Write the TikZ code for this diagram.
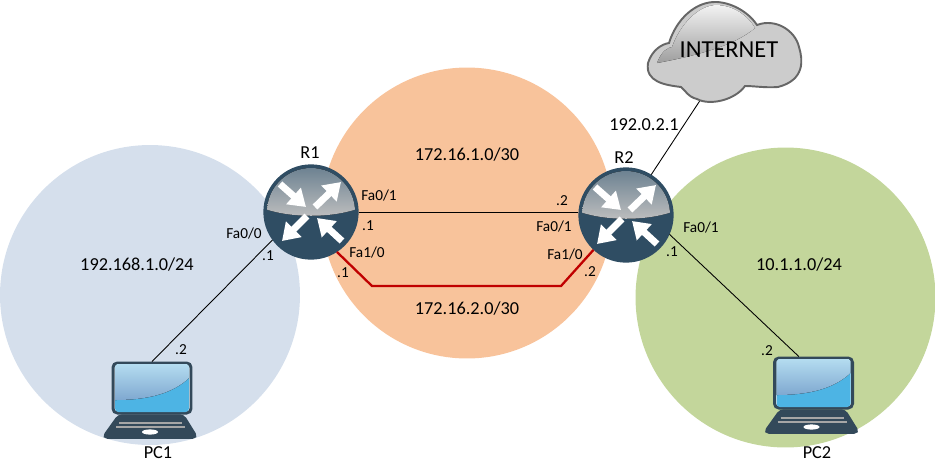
\documentclass[tikz,border=0pt]{standalone}
\usepackage{fontspec}
\setmainfont{Carlito}
\usetikzlibrary{arrows.meta, positioning}

\definecolor{routerblue}{HTML}{2F4D63}
\definecolor{frameblue}{HTML}{33495A}
\definecolor{screenblue}{HTML}{4DB4E4}
\definecolor{screenpale}{HTML}{B4DCF0}
\definecolor{screendull}{HTML}{7FA8D0}
\definecolor{lanblue}{HTML}{D5DFEC}
\definecolor{lanorange}{HTML}{F8C39B}
\definecolor{langreen}{HTML}{C3D69B}
\definecolor{linkred}{HTML}{C00000}

\tikzset{
    lan/.style={circle, fill=#1, inner sep=0, minimum size=6cm},
    router/.style={circle, draw=routerblue, line width=1.6pt, fill=routerblue, inner sep=0, minimum size=1.85cm},
    laptop/.style={rectangle, rounded corners=2.5pt, draw=frameblue, line width=1.7pt, fill=white, inner sep=0, minimum width=1.56cm, minimum height=1cm},
    big/.style={font=\fontsize{10.4pt}{12pt}\selectfont, inner sep=0},
    small/.style={font=\fontsize{8.7pt}{10pt}\selectfont, inner sep=0},
    flow/.style={white, line width=3.9pt, -{Triangle[length=9.5pt, width=12pt]}},
    pics/routerface/.style={code={
        \begin{scope}
            \clip (0, 0) circle (44);
            \fill[top color=routerblue!70!white, bottom color=white!50!gray] (-46, -44) -- (46, -44) -- (46, -3) .. controls (20, 6) and (-20, 6) .. (-46, -3) -- cycle;
        \end{scope}
        \draw[flow] (-31, -28) -- (-5, -5);
        \draw[flow] (4, -5) -- (30, -30);
        \draw[flow] (-4, 4) -- (-29, 29);
        \draw[flow] (31, 29) -- (6, 6);
    }},
    pics/laptopface/.style={code={
        \fill[rounded corners=2pt, screenblue] (-37, -24) rectangle (37, 24);
        \fill[top color=screenpale, bottom color=screendull] (-37, 12) .. controls (-5, 12) and (20, 6) .. (37, -10) -- (37, -22) -- (35, -24) -- (-35, -24) -- (-37, -22) -- cycle;
        \draw[frameblue, line width=2pt, rounded corners=2pt, fill=frameblue] (-33, 28) -- (31, 28) -- (44, 49) -- (-48, 49) -- cycle;
        \draw[gray!70!white, line width=.8pt] (-33, 35) -- (30, 35);
        \draw[gray!70!white, line width=.8pt] (-36, 39) -- (33, 39);
        \fill[white] (-2, 44) ellipse (8 and 2.6);
    }}
}

\begin{document}
\begin{tikzpicture}[x=0.02cm, y=-0.02cm]
    \useasboundingbox (0, 0) rectangle (935, 467);
    \node[lan=lanblue] at (150, 295) (lan1) {};
    \node[lan=lanorange, minimum size=5.82cm] at (467, 213) (lan2) {};
    \node[lan=langreen] at (785.5, 297.5) (lan3) {};

    \node[router] at (311, 212) (R1) {};
    \node[router] at (626, 215) (R2) {};
    \node[laptop] at (152, 388) (PC1) {};
    \node[laptop] at (813.5, 383) (PC2) {};
    \coordinate (cloudfoot) at (701, 99);
    \coordinate (bendleft) at (372, 286);
    \coordinate (bendright) at (561, 286);

    \draw (R1.east) -- (R1.east -| R2.west);
    \draw[linkred, line width=1.3pt] (R1.-57) -- (bendleft) -- (bendright) -- (R2.-133);
    \draw[line width=.5pt] (R1.216) -- (PC1.north);
    \draw[line width=.5pt] (R2.-24) -- (PC2.119);
    \draw[line width=.5pt] (R2.58) -- (cloudfoot);

    \pic at (R1) {routerface};
    \pic at (R2) {routerface};
    \pic at (PC1) {laptopface};
    \pic at (PC2) {laptopface};

    \draw[draw=black!60, line width=1.1pt, fill=black!20] (648, 63) .. controls (652, 50) and (662, 44) .. (669, 43)
        .. controls (676, 20) and (695, 1) .. (717, 2)
        .. controls (734, 3) and (750, 14) .. (757, 25)
        .. controls (775, 18) and (795, 30) .. (799, 47)
        .. controls (803, 60) and (805, 80) .. (778, 87)
        .. controls (765, 88) and (755, 86) .. (745, 86)
        .. controls (735, 100) and (710, 106) .. (697, 99)
        .. controls (688, 97) and (685, 90) .. (681, 87)
        .. controls (665, 85) and (645, 82) .. (648, 63) -- cycle;
    \fill[top color=black!5, bottom color=black!38] (657, 63) .. controls (662, 50) and (668, 48) .. (672, 47)
        .. controls (680, 25) and (698, 5) .. (717, 5)
        .. controls (735, 6) and (748, 16) .. (755, 28)
        .. controls (735, 45) and (700, 55) .. (657, 63) -- cycle;
    \node[font=\fontsize{13.9pt}{16pt}\selectfont, inner sep=0] at (729, 50) (internet) {INTERNET};

    \node[big] at (310, 153) (nameR1) {R1};
    \node[big] at (624, 158) (nameR2) {R2};
    \node[big] at (158, 453) (namePC1) {PC1};
    \node[big] at (817, 453) (namePC2) {PC2};
    \node[big] at (137, 265) (netA) {192.168.1.0/24};
    \node[big] at (467, 155) (netB) {172.16.1.0/30};
    \node[big] at (467, 309) (netC) {172.16.2.0/30};
    \node[big] at (799, 265) (netD) {10.1.1.0/24};
    \node[big] at (644, 125) (wanip) {192.0.2.1};

    \node[small] at (244, 234) (ifA) {Fa0/0};
    \node[small] at (268, 256) (hostA) {.1};
    \node[small] at (181, 350) (hostB) {.2};
    \node[small] at (379, 196) (ifB) {Fa0/1};
    \node[small] at (368, 226) (hostC) {.1};
    \node[small] at (367, 253) (ifC) {Fa1/0};
    \node[small] at (343, 273) (hostD) {.1};
    \node[small] at (562, 201) (hostE) {.2};
    \node[small] at (554, 227) (ifD) {Fa0/1};
    \node[small] at (565, 255) (ifE) {Fa1/0};
    \node[small] at (590, 272) (hostF) {.2};
    \node[small] at (701, 228) (ifF) {Fa0/1};
    \node[small] at (672, 252) (hostG) {.1};
    \node[small] at (767, 351) (hostH) {.2};
\end{tikzpicture}
\end{document}
